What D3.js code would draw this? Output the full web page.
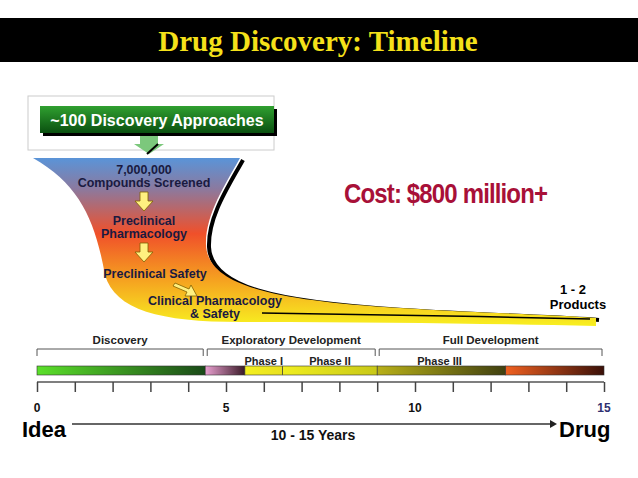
<!DOCTYPE html>
<html><head><meta charset="utf-8">
<script src="https://cdn.jsdelivr.net/npm/d3@7"></script>
<style>body{margin:0;background:#fff}svg{display:block}</style>
</head><body>
<svg width="638" height="478"></svg>
<script>
// timeline data
var years = d3.range(0, 16);
var yearLabels = [0, 5, 10, 15];
var stages = ["Discovery", "Exploratory Development", "Full Development"];
var stageStart = [0, 4.45, 9];
var stageEnd = [4.45, 9, 15];
var segStart = [0, 4.45, 5.5, 6.5, 9, 12.4];
var segEnd = [4.45, 5.5, 6.5, 9, 12.4, 15];
var segFrom = ["#5be02a", "#e9a0d0", "#f4f020", "#f0ee20", "#b8b018", "#f06020"];
var segTo = ["#1a4a18", "#3a1a28", "#e8e020", "#c8c818", "#404010", "#3a1008"];
var phases = ["Phase I", "Phase II", "Phase III"];
var phaseAt = [6.0, 7.75, 10.65];
var funnelSteps = ["7,000,000|Compounds Screened", "Preclinical|Pharmacology", "Preclinical Safety", "Clinical Pharmacology|& Safety"];

var svg = d3.select("svg");
var x = d3.scaleLinear().domain([0, 15]).range([37, 604]);

// title
svg.append("rect").attr("x", 0).attr("y", 18).attr("width", 638).attr("height", 44).attr("fill", "#000");
svg.append("text").attr("x", 318).attr("y", 51).attr("text-anchor", "middle")
  .attr("font-family", "Liberation Serif").attr("font-weight", "bold").attr("font-size", 29)
  .attr("fill", "#f5e11a").text("Drug Discovery: Timeline");

var defs = svg.append("defs");
var fg = defs.append("linearGradient").attr("id", "fun").attr("x1", 0).attr("y1", 0).attr("x2", 0).attr("y2", 1);
[[0, "#5a94d8"], [0.18, "#8a7aa0"], [0.45, "#f0502a"], [0.72, "#f5a020"], [1, "#f8f020"]].forEach(function(s) {
  fg.append("stop").attr("offset", s[0]).attr("stop-color", s[1]);
});
var bg = defs.append("linearGradient").attr("id", "btn").attr("x1", 0).attr("y1", 0).attr("x2", 0).attr("y2", 1);
bg.append("stop").attr("offset", 0).attr("stop-color", "#30a030");
bg.append("stop").attr("offset", 1).attr("stop-color", "#0a5010");

// funnel
var rightEdge = "C225,185 205,215 206,245 C208,285 270,300 400,308 C480,313 560,315 596,318";
svg.append("path").attr("d", "M240,158 " + rightEdge)
  .attr("fill", "none").attr("stroke", "#000").attr("stroke-width", 4).attr("transform", "translate(3,2)");
svg.append("path").attr("d", "M33,158 L240,158 " + rightEdge
  + " L596,326 C500,324 380,322 240,322 C160,322 115,310 105,275 C95,220 80,185 33,158 Z").attr("fill", "url(#fun)");
svg.append("path").attr("d", "M262,313 C350,315 480,316 590,319").attr("fill", "none").attr("stroke", "#000").attr("stroke-width", 1.5);

// discovery approaches box
svg.append("rect").attr("x", 28).attr("y", 96).attr("width", 246).attr("height", 54).attr("fill", "#fff").attr("stroke", "#ccc");
svg.append("rect").attr("x", 43).attr("y", 109).attr("width", 234).attr("height", 27).attr("fill", "#000");
svg.append("rect").attr("x", 40).attr("y", 106).attr("width", 234).attr("height", 27).attr("fill", "url(#btn)");
svg.append("text").attr("x", 157).attr("y", 126).attr("text-anchor", "middle").attr("font-family", "Liberation Sans")
  .attr("font-weight", "bold").attr("font-size", 16).attr("fill", "#fff").text("~100 Discovery Approaches");
svg.append("path").attr("d", "M140,136 L158,136 L158,144 L164,144 L149,154 L134,144 L140,144 Z").attr("fill", "#7cc87c");
svg.append("line").attr("x1", 147).attr("y1", 154).attr("x2", 158).attr("y2", 144).attr("stroke", "#000").attr("stroke-width", 2);

// funnel step labels
var stepPos = [[144, 174], [144, 225], [155, 278], [215, 305]];
funnelSteps.forEach(function(s, i) {
  var t = svg.append("text").attr("x", stepPos[i][0]).attr("y", stepPos[i][1]).attr("text-anchor", "middle")
    .attr("font-family", "Liberation Sans").attr("font-weight", "bold").attr("font-size", 12.5).attr("fill", "#1a1a40");
  s.split("|").forEach(function(l, j) { t.append("tspan").attr("x", stepPos[i][0]).attr("dy", j ? 13 : 0).text(l); });
});
[[144, 192], [144, 243]].forEach(function(p) {
  svg.append("path").attr("d", "M" + (p[0]-4) + "," + p[1] + " h8 v9 h5 l-9,10 l-9,-10 h5 Z")
    .attr("fill", "#fff080").attr("stroke", "#806000").attr("stroke-width", 0.8);
});
svg.append("path").attr("d", "M175,283 l14,6 l2,-4 l6,11 l-12,0 l2,-4 l-14,-6 Z").attr("fill", "#fff080").attr("stroke", "#806000").attr("stroke-width", 0.8);

svg.append("text").attr("x", 446).attr("y", 203).attr("text-anchor", "middle").attr("font-family", "Liberation Sans")
  .attr("font-weight", "bold").attr("font-size", 24).attr("fill", "#a81038").attr("textLength", 204)
  .attr("transform", "translate(446,203) scale(1,1.15) translate(-446,-203)").text("Cost: $800 million+");
var pr = svg.append("text").attr("text-anchor", "middle").attr("font-family", "Liberation Sans")
  .attr("font-weight", "bold").attr("font-size", 13).attr("fill", "#000");
pr.append("tspan").attr("x", 573).attr("y", 294).text("1 - 2");
pr.append("tspan").attr("x", 578).attr("dy", 15).text("Products");

// stage brackets
stages.forEach(function(s, i) {
  var a = x(stageStart[i]) + (i ? 2 : 0), b = x(stageEnd[i]) - 2;
  svg.append("path").attr("d", "M" + a + ",356 V349 H" + b + " V356").attr("fill", "none").attr("stroke", "#555");
  svg.append("text").attr("x", (a + b) / 2).attr("y", 344).attr("text-anchor", "middle").attr("font-family", "Liberation Sans")
    .attr("font-weight", "bold").attr("font-size", 11.5).attr("fill", "#222").text(s);
});

// colour bar
segStart.forEach(function(s, i) {
  var id = "seg" + i;
  var g = defs.append("linearGradient").attr("id", id);
  g.append("stop").attr("offset", 0).attr("stop-color", segFrom[i]);
  g.append("stop").attr("offset", 1).attr("stop-color", segTo[i]);
  svg.append("rect").attr("x", x(s)).attr("y", 366).attr("width", x(segEnd[i]) - x(s)).attr("height", 9)
    .attr("fill", "url(#" + id + ")").attr("stroke", "#333").attr("stroke-width", 0.6);
});
phases.forEach(function(p, i) {
  svg.append("text").attr("x", x(phaseAt[i])).attr("y", 365).attr("text-anchor", "middle").attr("font-family", "Liberation Sans")
    .attr("font-weight", "bold").attr("font-size", 11).attr("fill", "#222").text(p);
});

// year axis
var axis = svg.append("g").attr("transform", "translate(0,382)")
  .call(d3.axisBottom(x).tickValues(years).tickSize(10).tickFormat(""));
axis.select(".domain").attr("stroke", "#555").attr("stroke-width", 1.5).attr("d", "M37,0H604");
axis.selectAll(".tick line").attr("stroke", "#444").attr("stroke-width", 1.5);
yearLabels.forEach(function(v) {
  svg.append("text").attr("x", x(v)).attr("y", 412).attr("text-anchor", "middle").attr("font-family", "Liberation Sans")
    .attr("font-weight", "bold").attr("font-size", 12).attr("fill", v === 15 ? "#303070" : "#111").text(v);
});

// idea -> drug
svg.append("text").attr("x", 22).attr("y", 437).attr("font-family", "Liberation Sans").attr("font-weight", "bold")
  .attr("font-size", 22).attr("fill", "#000").text("Idea");
svg.append("text").attr("x", 559).attr("y", 437).attr("font-family", "Liberation Sans").attr("font-weight", "bold")
  .attr("font-size", 22).attr("fill", "#000").text("Drug");
svg.append("line").attr("x1", 72).attr("y1", 424).attr("x2", 550).attr("y2", 424).attr("stroke", "#666").attr("stroke-width", 2);
svg.append("path").attr("d", "M550,420 L557,424 L550,428 Z").attr("fill", "#222");
svg.append("text").attr("x", 313).attr("y", 440).attr("text-anchor", "middle").attr("font-family", "Liberation Sans")
  .attr("font-weight", "bold").attr("font-size", 14).attr("fill", "#111").text("10 - 15 Years");
</script>
</body></html>
